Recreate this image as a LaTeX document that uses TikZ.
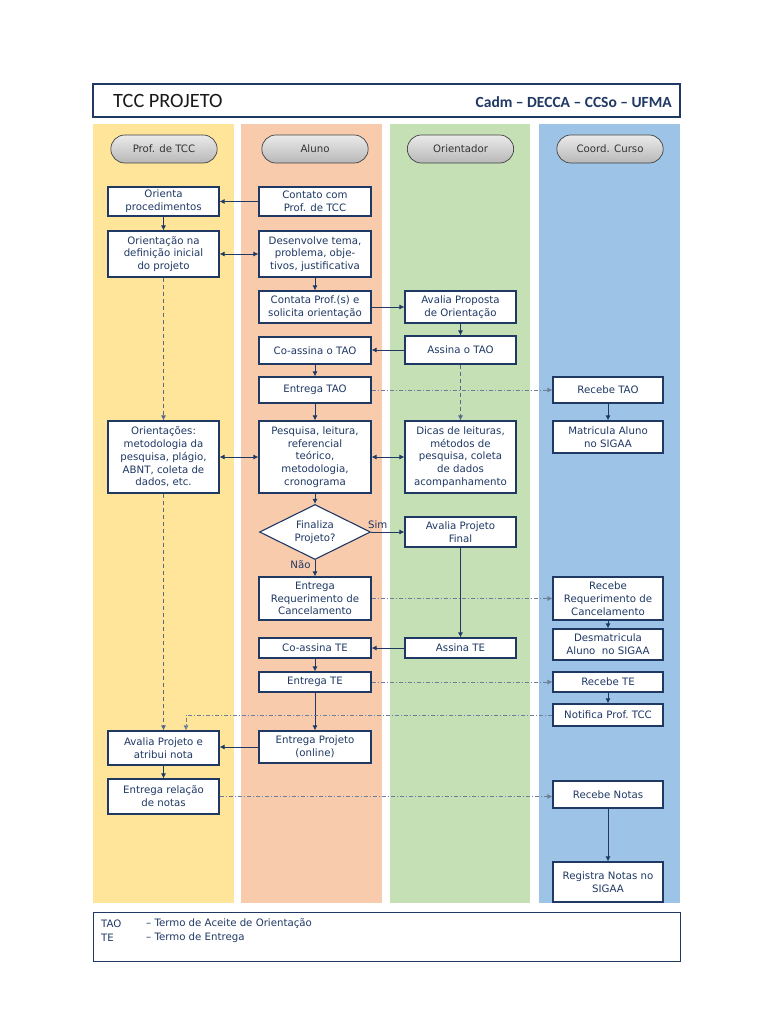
\documentclass[tikz,border=0pt]{standalone}
\usepackage{fontspec}
\setmainfont{DejaVu Sans}
\newfontfamily\titlefont{Carlito}
\usetikzlibrary{shapes.geometric,shapes.misc,arrows.meta}
\definecolor{navy}{HTML}{1F3864}
\definecolor{laneY}{HTML}{FFE599}
\definecolor{laneO}{HTML}{F8CBAD}
\definecolor{laneG}{HTML}{C5E0B4}
\definecolor{laneB}{HTML}{9DC3E6}
\tikzset{
  txt/.style={font=\fontsize{10.2}{12.8}\selectfont, text=navy},
  box/.style={txt, draw=navy, fill=white, line width=1.1pt, align=center, inner sep=1pt},
  pill/.style={rounded rectangle, draw=black!75, line width=0.7pt, top color=black!8, bottom color=black!28,
    minimum width=113pt, minimum height=28pt, txt, text=black!80},
  conn/.style={draw=navy, line width=0.9pt, -{Latex[length=5pt,width=5pt]}},
  dconn/.style={conn, {Latex[length=5pt,width=5pt]}-{Latex[length=5pt,width=5pt]}},
  dashconn/.style={conn, draw=navy!75, dash pattern=on 4pt off 3pt},
  ddconn/.style={conn, draw=navy!65, line width=0.7pt, dash pattern=on 4pt off 2pt on 1pt off 2pt},
}
\begin{document}
\begin{tikzpicture}[x=1pt,y=-1pt]
\useasboundingbox (0,0) rectangle (768,1024);
\fill[white] (0,0) rectangle (768,1024);
% lanes
\fill[laneY] (93,124) rectangle (234,903);
\fill[laneO] (241,124) rectangle (382,903);
\fill[laneG] (390,124) rectangle (530,903);
\fill[laneB] (539,124) rectangle (680,903);
% title
\node[draw=navy, line width=1.3pt, minimum width=587pt, minimum height=33pt, inner sep=0pt] (title) at (386.5,100.5) {};
\node[anchor=west, font=\titlefont\fontsize{20.3}{23}\selectfont, text=black!90, inner sep=0pt] (ttl) at (113,101) {TCC PROJETO};
\node[anchor=east, font=\titlefont\bfseries\fontsize{15.5}{18}\selectfont, text=navy, inner sep=0pt] (org) at (672,102) {Cadm – DECCA – CCSo – UFMA};
% headers
\node[pill] (h1) at (164,149) {Prof. de TCC};
\node[pill] (h2) at (315,149) {Aluno};
\node[pill] (h3) at (460.5,149) {Orientador};
\node[pill] (h4) at (610,149) {Coord. Curso};
% Prof lane
\node[box, minimum width=111pt, minimum height=29pt] (p1) at (163.5,201.5) {Orienta\\procedimentos};
\node[box, minimum width=111pt, minimum height=46pt] (p2) at (163.5,254) {Orientação na\\definição inicial\\do projeto};
\node[box, minimum width=111pt, minimum height=72pt] (p3) at (163.5,457) {Orientações:\\metodologia da\\pesquisa, plágio,\\ABNT, coleta de\\dados, etc.};
\node[box, minimum width=111pt, minimum height=34pt] (p4) at (163.5,748) {Avalia Projeto e\\atribui nota};
\node[box, minimum width=111pt, minimum height=35pt] (p5) at (163.5,796.5) {Entrega relação\\de notas};
% Aluno lane
\node[box, minimum width=112pt, minimum height=29pt] (a1) at (315,201.5) {Contato com\\Prof. de TCC};
\node[box, minimum width=112pt, minimum height=46pt] (a2) at (315,254) {Desenvolve tema,\\problema, obje-\\tivos, justificativa};
\node[box, minimum width=112pt, minimum height=32pt] (a3) at (315,307) {Contata Prof.(s) e\\solicita orientação};
\node[box, minimum width=112pt, minimum height=27pt] (a4) at (315,350.5) {Co-assina o TAO};
\node[box, minimum width=112pt, minimum height=26pt] (a5) at (315,390) {Entrega TAO};
\node[box, minimum width=112pt, minimum height=72pt] (a6) at (315,457) {Pesquisa, leitura,\\referencial\\teórico,\\metodologia,\\cronograma};
\node[diamond, aspect=2, inner sep=0pt, draw=navy, fill=white, line width=1.1pt, txt, align=center, minimum width=111pt, minimum height=55pt] (ad) at (315,532) {Finaliza\\Projeto?};
\node[box, minimum width=112pt, minimum height=43pt] (a7) at (315,598.5) {Entrega\\Requerimento de\\Cancelamento};
\node[box, minimum width=112pt, minimum height=20pt] (a8) at (315,648) {Co-assina TE};
\node[box, minimum width=112pt, minimum height=20pt] (a9) at (315,682) {Entrega TE};
\node[box, minimum width=112pt, minimum height=32pt] (a10) at (315,747) {Entrega Projeto\\(online)};
% Orientador lane
\node[box, minimum width=111pt, minimum height=32pt] (o1) at (460.5,307) {Avalia Proposta\\de Orientação};
\node[box, minimum width=111pt, minimum height=28pt] (o2) at (460.5,350) {Assina o TAO};
\node[box, minimum width=111pt, minimum height=72pt] (o3) at (460.5,457) {Dicas de leituras,\\métodos de\\pesquisa, coleta\\de dados\\acompanhamento};
\node[box, minimum width=111pt, minimum height=30pt] (o4) at (460.5,532) {Avalia Projeto\\Final};
\node[box, minimum width=111pt, minimum height=20pt] (o5) at (460.5,648) {Assina TE};
% Coord lane
\node[box, minimum width=110pt, minimum height=26pt] (c1) at (608,390) {Recebe TAO};
\node[box, minimum width=110pt, minimum height=32pt] (c2) at (608,437) {Matricula Aluno\\no SIGAA};
\node[box, minimum width=110pt, minimum height=43pt] (c3) at (608,598.5) {Recebe\\Requerimento de\\Cancelamento};
\node[box, minimum width=110pt, minimum height=31pt] (c4) at (608,644.5) {Desmatricula\\Aluno\ \ no SIGAA};
\node[box, minimum width=110pt, minimum height=20pt] (c5) at (608,682) {Recebe TE};
\node[box, minimum width=110pt, minimum height=22pt] (c6) at (608,715) {Notifica Prof.\ TCC};
\node[box, minimum width=110pt, minimum height=27pt] (c7) at (608,794.5) {Recebe Notas};
\node[box, minimum width=110pt, minimum height=40pt] (c8) at (608,882) {Registra Notas no\\SIGAA};
% legend
\node[draw=navy, line width=0.9pt, minimum width=587pt, minimum height=49pt, inner sep=0pt] (leg) at (386.5,936.5) {};
\node[txt, anchor=west, inner sep=0pt] (l1) at (101,924) {TAO};
\node[txt, anchor=west, inner sep=0pt] (l2) at (146,924) {– Termo de Aceite de Orientação};
\node[txt, anchor=west, inner sep=0pt] (l3) at (101,938) {TE};
\node[txt, anchor=west, inner sep=0pt] (l4) at (146,938) {– Termo de Entrega};
% connectors
\draw[conn] (a1) -- (p1);
\draw[conn] (p1) -- (p2);
\draw[dconn] (p2) -- (a2);
\draw[conn] (a2) -- (a3);
\draw[conn] (a3) -- (a3 -| o1.west);
\draw[conn] (o1) -- (o2);
\draw[conn] (o2) -- (o2 -| a4.east);
\draw[conn] (a4) -- (a5);
\draw[ddconn] (a5) -- (c1);
\draw[conn] (c1) -- (c2);
\draw[conn] (a5) -- (a6);
\draw[dashconn] (o2) -- (o3);
\draw[dashconn] (p2) -- (p3);
\draw[dconn] (p3) -- (a6);
\draw[dconn] (a6) -- (o3);
\draw[conn] (a6) -- (ad);
\draw[conn] (ad) -- node[pos=0.2, above, txt, inner sep=1pt, yshift=2pt] {Sim} (o4);
\draw[conn] (ad) -- node[pos=0.3, left, txt, inner sep=2pt, xshift=-2pt] {Não} (a7);
\draw[conn] (o4) -- (o5);
\draw[conn] (o5) -- (a8);
\draw[conn] (a8) -- (a9);
\draw[ddconn] (a7) -- (c3);
\draw[conn] (c3) -- (c4);
\draw[ddconn] (a9) -- (c5);
\draw[conn] (c5) -- (c6);
\draw[conn] (a9) -- (a10);
\draw[conn] (a10) -- (a10 -| p4.east);
\coordinate (nk) at (186,715);
\draw[ddconn] (c6) -- (nk) -- (nk |- p4.north);
\draw[dashconn] (p3) -- (p4);
\draw[conn] (p4) -- (p5);
\draw[ddconn] (p5) -- (p5 -| c7.west);
\draw[conn] (c7) -- (c8);
\end{tikzpicture}
\end{document}
